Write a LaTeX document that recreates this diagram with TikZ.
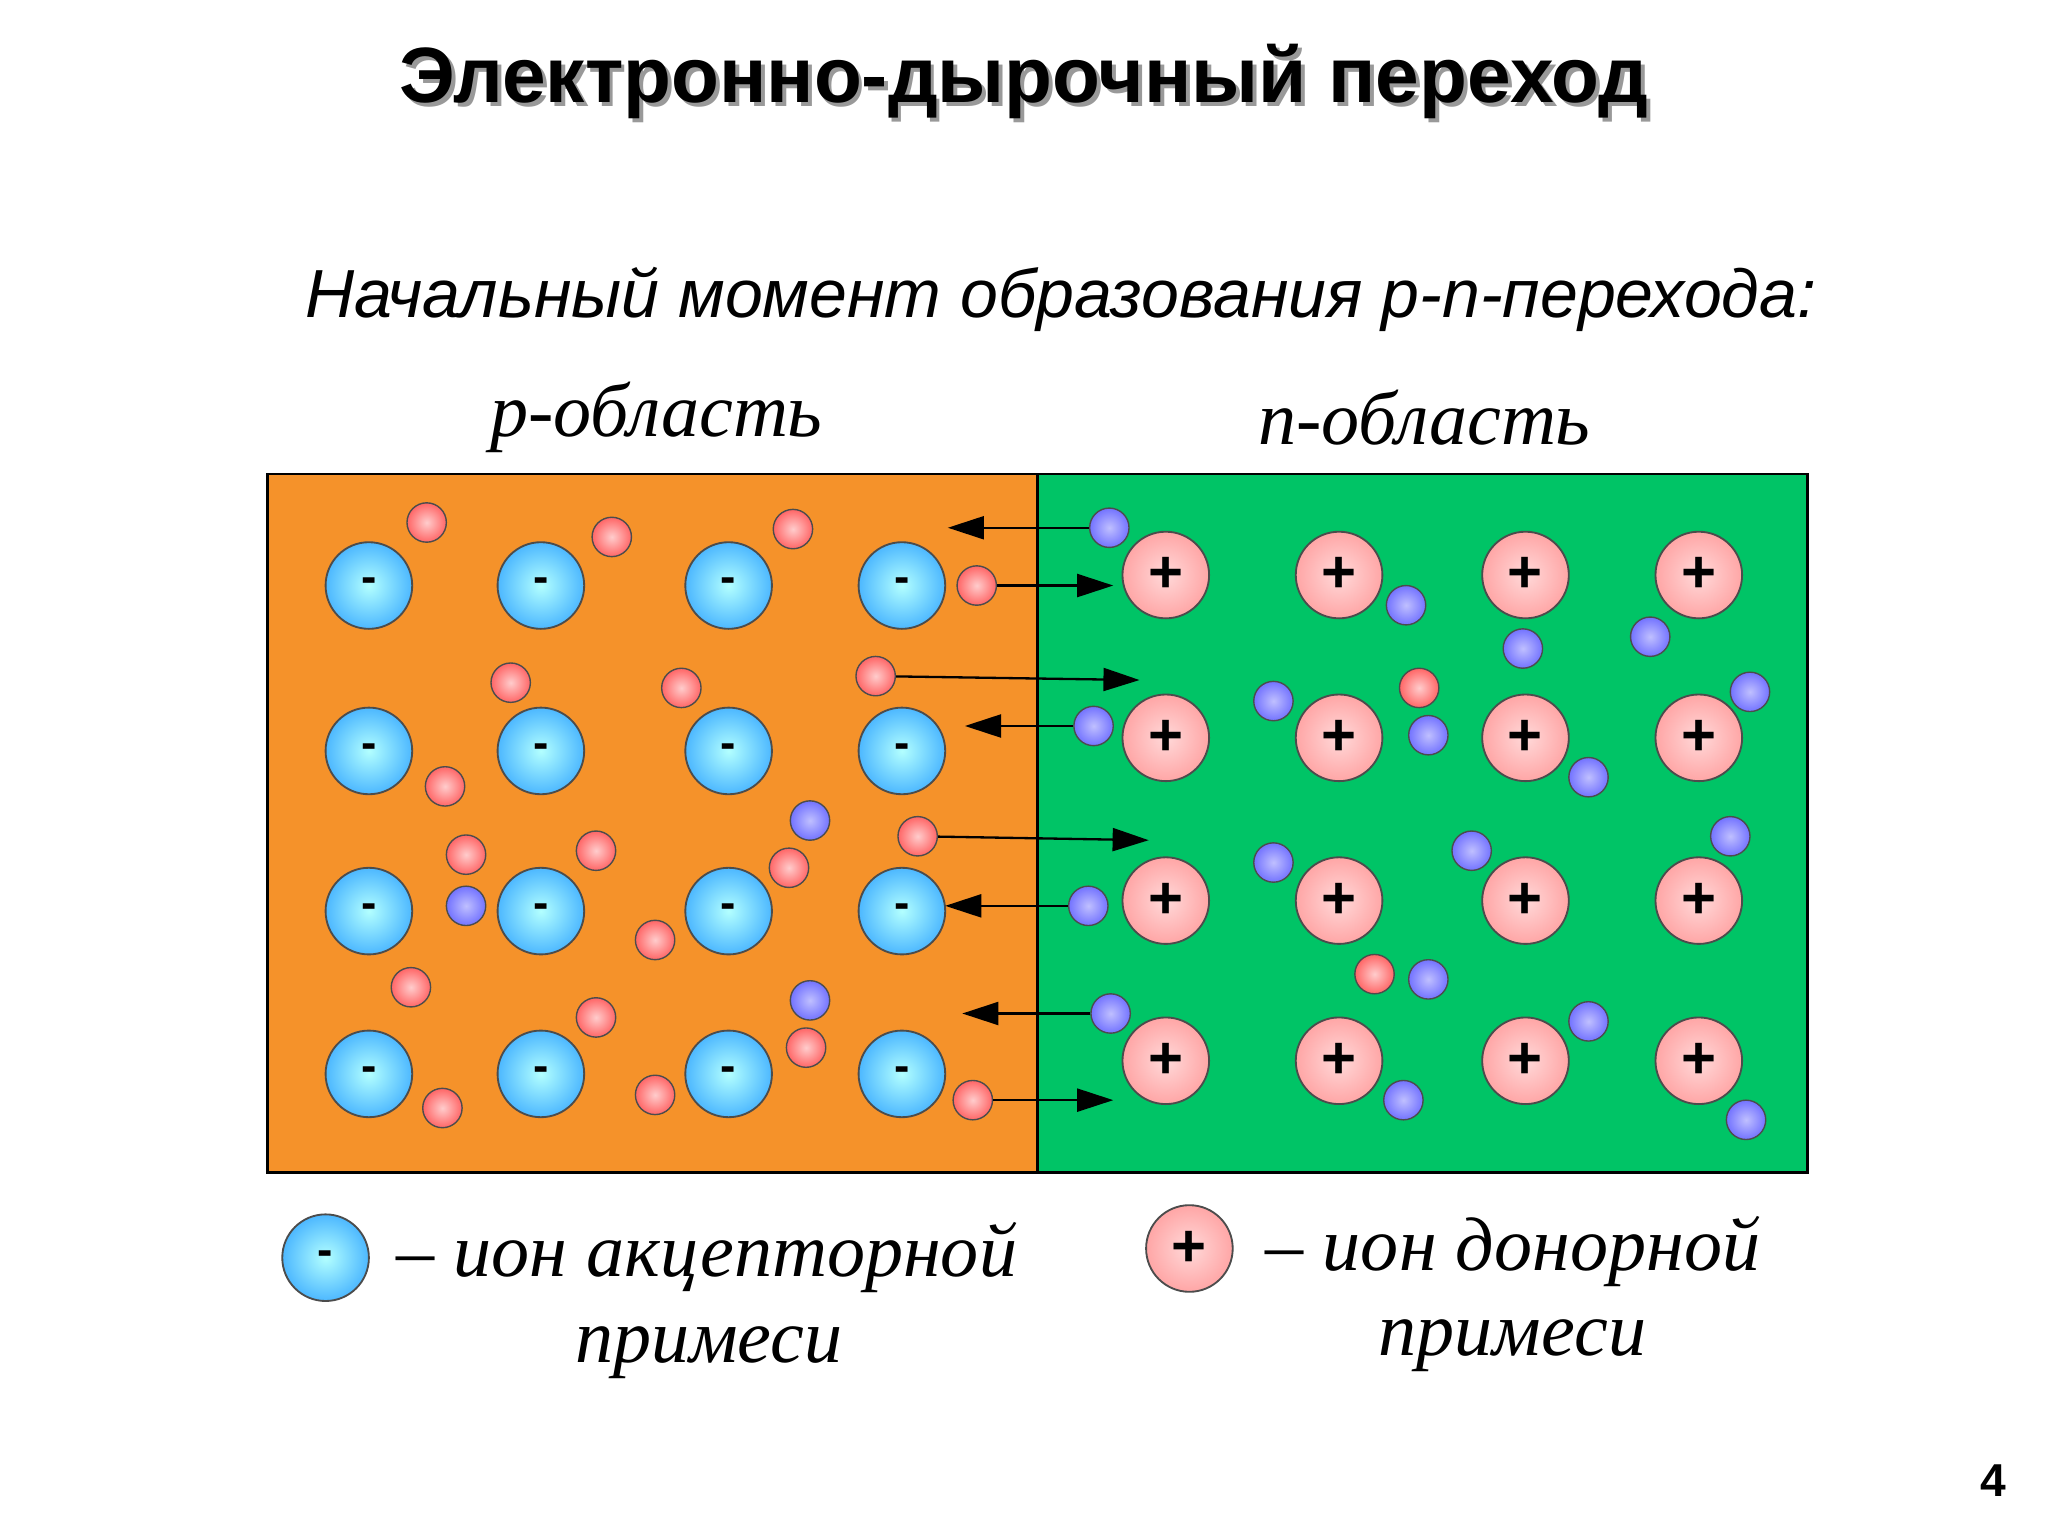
\documentclass[tikz,border=0pt]{standalone}
\usepackage{fontspec}
\setmainfont{Liberation Serif}
\setsansfont{Liberation Sans}
\usetikzlibrary{arrows.meta}
\definecolor{porange}{HTML}{F5922A}
\definecolor{ngreen}{HTML}{00C466}
\tikzset{
 x=0.02cm,y=-0.02cm,
 acc/.style={circle,minimum size=1.32cm,inner sep=0pt,draw=black!70,line width=0.8pt,inner color=white!70!cyan,outer color=cyan!60!blue!70!white,font=\sffamily\bfseries\fontsize{20}{20}\selectfont},
 don/.style={circle,minimum size=1.32cm,inner sep=0pt,draw=black!70,line width=0.8pt,inner color=white!85!red,outer color=red!35!white,font=\sffamily\bfseries\fontsize{26}{26}\selectfont},
 hole/.style={circle,minimum size=0.6cm,inner sep=0pt,draw=black!70,line width=0.6pt,inner color=white!80!red,outer color=red!60!white},
 elec/.style={circle,minimum size=0.6cm,inner sep=0pt,draw=black!70,line width=0.6pt,inner color=white!75!blue,outer color=blue!55!white},
 flow/.style={-{Triangle[length=0.55cm,width=0.35cm]},line width=1pt},
 lbl/.style={font=\itshape\fontsize{33}{33}\selectfont},
}
\begin{document}
\begin{tikzpicture}
\useasboundingbox (0,0) rectangle (1560,1170);
\fill[white] (0,0) rectangle (1560,1170);
\node[font=\sffamily\bfseries\fontsize{34}{34}\selectfont,text=black!40] at (783,65) {Электронно-дырочный переход};
\node (title) [font=\sffamily\bfseries\fontsize{34}{34}\selectfont] at (780,62) {Электронно-дырочный переход};
\node (sub) [font=\sffamily\itshape\fontsize{29.5}{30}\selectfont] at (808,228) {Начальный момент образования p-n-перехода:};
\node (pl) [lbl] at (500,318) {p-область};
\node (nl) [lbl] at (1085,318) {n-область};
\draw[fill=porange,line width=1.2pt] (204,361) rectangle (790,893);
\draw[fill=ngreen,line width=1.2pt] (790,361) rectangle (1377,893);
\foreach \y [count=\r] in {446,572,694,818}
 \foreach \x [count=\c] in {281,412,555,687}
  \node (a\r\c) [acc] at (\x,\y) {-};
\foreach \y [count=\r] in {438,562,686,808}
 \foreach \x [count=\c] in {888,1020,1162,1294}
  \node (d\r\c) [don] at (\x,\y) {+};
\foreach \p [count=\i] in {(325,398),(466,409),(604,403),(744,446),(389,520),(519,524),(667,515),(339,599),(355,651),(454,648),(601,661),(699,637),(499,716),(313,752),(454,775),(614,798),(337,844),(499,834),(741,838),(1081,524),(1047,742)}
  \node (h\i) [hole] at \p {};
\foreach \p [count=\i] in {(845,402),(1071,461),(1160,494),(1257,485),(833,553),(970,534),(1088,560),(1333,527),(1210,592),(617,625),(355,690),(970,657),(1121,648),(1318,637),(829,690),(1088,746),(617,762),(846,772),(1210,778),(1069,838),(1330,853)}
  \node (e\i) [elec] at \p {};
\coordinate (t1) at (722,402);
\coordinate (t2) at (848,446);
\coordinate (t3) at (868,518);
\coordinate (t4) at (735,553);
\coordinate (t5) at (875,640);
\coordinate (t6) at (720,690);
\coordinate (t7) at (733,772);
\coordinate (t8) at (848,838);
\draw[flow] (e1) -- (t1);
\draw[flow] (h4) -- (t2);
\draw[flow] (h7) -- (t3);
\draw[flow] (e5) -- (t4);
\draw[flow] (h12) -- (t5);
\draw[flow] (e15) -- (t6);
\draw[flow] (e18) -- (t7);
\draw[flow] (h19) -- (t8);
\node (la) [acc] at (248,958) {-};
\node (lat) [lbl,anchor=west] at (296,958) {– ион акцепторной};
\node (lat2) [lbl] at (540,1030) {примеси};
\node (ld) [don] at (906,951) {+};
\node (ldt) [lbl,anchor=west] at (958,953) {– ион донорной};
\node (ldt2) [lbl] at (1152,1025) {примеси};
\node (num) [font=\sffamily\bfseries\fontsize{20}{20}\selectfont] at (1518,1128) {4};
\end{tikzpicture}
\end{document}
